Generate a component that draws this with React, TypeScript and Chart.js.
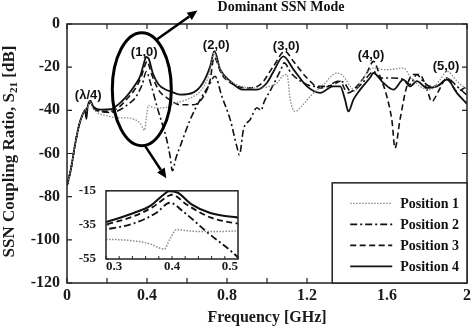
import React, { useEffect, useRef } from "react";
import { Chart, registerables } from "chart.js";

Chart.register(...registerables);

const SERIF = '"Liberation Serif", "Times New Roman", serif';
const SANS = '"Liberation Sans", Arial, sans-serif';

// ---------- data (frequency in GHz, S21 in dB) ----------
const pos1Freq = [0, 0.02, 0.04, 0.06, 0.08, 0.09, 0.1, 0.117, 0.13, 0.15, 0.2, 0.25, 0.3, 0.342, 0.367, 0.382, 0.388, 0.397, 0.407, 0.42, 0.443, 0.5, 0.53, 0.6, 0.666, 0.7, 0.716, 0.735, 0.75, 0.774, 0.85, 0.93, 1.0, 1.05, 1.08, 1.1, 1.116, 1.14, 1.18, 1.216, 1.282, 1.349, 1.382, 1.416, 1.44, 1.465, 1.532, 1.6, 1.682, 1.715, 1.765, 1.815, 1.866, 1.9, 1.95, 2.0];
const pos1Db = [-75, -67, -56, -47, -41.5, -40, -39, -36, -39, -41, -42.5, -43.5, -43.5, -44.4, -46.2, -48.7, -49.2, -43.2, -37.7, -38.3, -38.9, -38.5, -37, -35, -31.2, -26, -21.2, -13.4, -17, -22.7, -28.1, -29.6, -29.2, -27.3, -24, -23.4, -35, -40.5, -37.4, -33.5, -28.1, -22.7, -24.2, -28.9, -31, -27.2, -20.4, -21.2, -20.4, -24.2, -28.9, -30.4, -25.8, -21.9, -26.5, -30.4];

const pos2Freq = [0, 0.02, 0.04, 0.06, 0.08, 0.09, 0.1, 0.117, 0.13, 0.17, 0.22, 0.26, 0.3, 0.342, 0.376, 0.397, 0.417, 0.453, 0.498, 0.515, 0.527, 0.545, 0.566, 0.616, 0.666, 0.707, 0.74, 0.774, 0.816, 0.849, 0.862, 0.882, 0.916, 0.95, 0.97, 0.986, 1.019, 1.069, 1.086, 1.12, 1.169, 1.236, 1.3, 1.352, 1.386, 1.419, 1.469, 1.519, 1.535, 1.565, 1.632, 1.682, 1.715, 1.749, 1.78, 1.815, 1.866, 1.9, 1.95, 2.0];
const pos2Db = [-75, -67, -56, -47, -41.5, -40, -39, -36, -38.5, -40.5, -41, -40, -37.6, -34.1, -28, -22, -27.2, -39.2, -53.4, -61, -68, -62, -56.7, -44.3, -35, -28.9, -24.2, -33.5, -44.3, -56.7, -60.6, -49, -44.3, -38.8, -40, -36, -30.4, -21.2, -18, -22.7, -26.5, -28.9, -28.9, -26.5, -27.3, -31.2, -28.1, -22.7, -22, -25, -25, -25.8, -28, -23.4, -26.5, -28.9, -28, -25, -28.9, -33];

const pos3Freq = [0, 0.02, 0.04, 0.06, 0.08, 0.09, 0.1, 0.117, 0.13, 0.17, 0.22, 0.26, 0.3, 0.342, 0.37, 0.395, 0.4, 0.422, 0.458, 0.498, 0.566, 0.633, 0.683, 0.716, 0.735, 0.774, 0.833, 0.9, 0.966, 1.032, 1.09, 1.132, 1.2, 1.266, 1.332, 1.366, 1.39, 1.407, 1.449, 1.499, 1.532, 1.565, 1.599, 1.625, 1.64, 1.665, 1.699, 1.732, 1.765, 1.8, 1.824, 1.857, 1.9, 1.95, 2.0];
const pos3Db = [-75, -67, -56, -47, -41.5, -40, -39, -36, -38.5, -40.5, -40.5, -38.5, -34.7, -29.9, -24.7, -17.9, -17.3, -23, -30.6, -34.1, -37.4, -37.4, -33.5, -25.8, -15.5, -23.4, -28.1, -29.6, -28.1, -19.6, -12.6, -17.3, -25, -29.6, -28.1, -26.5, -30.4, -31.9, -28.9, -22.7, -17.3, -24.2, -33.5, -45, -57.5, -44.3, -28.9, -23.4, -23.5, -30.4, -35.9, -31.2, -25, -31.2, -28.9];

const pos4Freq = [0, 0.02, 0.04, 0.06, 0.08, 0.09, 0.097, 0.103, 0.117, 0.13, 0.17, 0.22, 0.26, 0.3, 0.342, 0.367, 0.388, 0.395, 0.408, 0.429, 0.458, 0.498, 0.517, 0.566, 0.63, 0.68, 0.716, 0.737, 0.766, 0.816, 0.88, 0.95, 1.0, 1.03, 1.082, 1.132, 1.2, 1.266, 1.33, 1.366, 1.39, 1.407, 1.432, 1.466, 1.515, 1.532, 1.582, 1.632, 1.682, 1.715, 1.749, 1.8, 1.85, 1.9, 1.95, 2.0];
const pos4Db = [-75, -67, -56, -47, -41.5, -40, -44, -38.5, -35.5, -38, -39.7, -39.5, -37, -33.3, -28, -23.9, -17, -15.3, -16, -22.8, -28, -30.6, -31.2, -32.7, -31.8, -27.2, -19.6, -12.6, -21, -26.5, -30.4, -30.4, -27.2, -22.5, -15, -21, -28.9, -31.9, -28.9, -28.9, -35, -40.5, -35, -30.4, -24.9, -22.7, -27.3, -30.4, -25.8, -28.9, -26.5, -29.6, -28.9, -25.8, -32, -37];

const seriesNames = ["Position 1", "Position 2", "Position 3", "Position 4"];
const seriesFreqs = [pos1Freq, pos2Freq, pos3Freq, pos4Freq];
const seriesDbs = [pos1Db, pos2Db, pos3Db, pos4Db];

const mainYTicks = [0, -20, -40, -60, -80, -100, -120];
const insetYTicks = [-15, -35, -55];

const modeLabels = ["(λ/4)", "(1,0)", "(2,0)", "(3,0)", "(4,0)", "(5,0)"];
const modeLabelFreq = [0.106, 0.386, 0.746, 1.096, 1.52, 1.895];
const modeLabelDb = [-33.2, -13.2, -10.0, -10.4, -14.6, -19.7];

// ---------- styles ----------
const seriesStyles = [
  { color: "#8a8a8a", width: 1.3, dash: [1.5, 1.5] },
  { color: "#111111", width: 1.6, dash: [7, 3, 2, 3] },
  { color: "#111111", width: 1.6, dash: [6, 3.5] },
  { color: "#111111", width: 1.8, dash: [] as number[] },
];

function buildDatasets(scaleW: number) {
  return seriesNames.map((name, i) => ({
    label: name,
    data: seriesFreqs[i].map((f, k) => ({ x: f, y: seriesDbs[i][k] })),
    borderColor: seriesStyles[i].color,
    borderWidth: seriesStyles[i].width * scaleW,
    borderDash: seriesStyles[i].dash,
    pointRadius: 0,
    cubicInterpolationMode: "monotone",
    fill: false,
  }));
}

function drawArrow(ctx: CanvasRenderingContext2D, x1: number, y1: number, x2: number, y2: number, lw: number) {
  const ang = Math.atan2(y2 - y1, x2 - x1);
  const head = 10;
  const half = 4.5;
  const bx = x2 - Math.cos(ang) * head;
  const by = y2 - Math.sin(ang) * head;
  ctx.lineWidth = lw;
  ctx.setLineDash([]);
  ctx.beginPath();
  ctx.moveTo(x1, y1);
  ctx.lineTo(bx, by);
  ctx.stroke();
  ctx.beginPath();
  ctx.moveTo(x2, y2);
  ctx.lineTo(bx + Math.sin(ang) * half, by - Math.cos(ang) * half);
  ctx.lineTo(bx - Math.sin(ang) * half, by + Math.cos(ang) * half);
  ctx.closePath();
  ctx.fill();
}

const mainDecor = {
  id: "mainDecor",
  afterDraw(chart: any) {
    const { ctx, chartArea: a } = chart;
    const xs = chart.scales.x;
    const ys = chart.scales.y;
    const px = (v: number) => xs.getPixelForValue(v);
    const py = (v: number) => ys.getPixelForValue(v);
    ctx.save();
    // frame
    ctx.strokeStyle = "#222";
    ctx.lineWidth = 1.5;
    ctx.setLineDash([]);
    ctx.strokeRect(a.left, a.top, a.right - a.left, a.bottom - a.top);
    // inward ticks
    ctx.lineWidth = 1.2;
    ctx.beginPath();
    xs.ticks.forEach((t: any) => {
      const p = xs.getPixelForValue(t.value);
      ctx.moveTo(p, a.bottom);
      ctx.lineTo(p, a.bottom - 5);
      ctx.moveTo(p, a.top);
      ctx.lineTo(p, a.top + 5);
    });
    ys.ticks.forEach((t: any) => {
      const p = ys.getPixelForValue(t.value);
      ctx.moveTo(a.left, p);
      ctx.lineTo(a.left + 5, p);
      ctx.moveTo(a.right, p);
      ctx.lineTo(a.right - 5, p);
    });
    ctx.stroke();

    // y title with subscript
    ctx.save();
    ctx.translate(10, (a.top + a.bottom) / 2 - 2);
    ctx.rotate(-Math.PI / 2);
    ctx.fillStyle = "#1a1a1a";
    ctx.textBaseline = "middle";
    ctx.textAlign = "left";
    const big = `bold 17px ${SERIF}`;
    const small = `bold 11px ${SERIF}`;
    const p1 = "SSN Coupling Ratio, S";
    const p2 = "21";
    const p3 = " [dB]";
    ctx.font = big;
    const w1 = ctx.measureText(p1).width;
    const w3 = ctx.measureText(p3).width;
    ctx.font = small;
    const w2 = ctx.measureText(p2).width;
    let cx = -(w1 + w2 + w3) / 2;
    ctx.font = big;
    ctx.fillText(p1, cx, 0);
    cx += w1;
    ctx.font = small;
    ctx.fillText(p2, cx, 4);
    cx += w2;
    ctx.font = big;
    ctx.fillText(p3, cx, 0);
    ctx.restore();

    // mode labels
    ctx.fillStyle = "#111";
    ctx.font = `bold 13px ${SANS}`;
    ctx.textAlign = "center";
    ctx.textBaseline = "middle";
    modeLabels.forEach((s, i) => ctx.fillText(s, px(modeLabelFreq[i]), py(modeLabelDb[i])));

    // ellipse around (1,0)
    ctx.strokeStyle = "#000";
    ctx.fillStyle = "#000";
    ctx.lineWidth = 3;
    ctx.beginPath();
    const ex = px(0.374);
    const ey = py(-30.2);
    const erx = px(0.374 + 0.1475) - ex;
    const ery = py(-30.2 - 26.2) - ey;
    ctx.ellipse(ex, ey, erx, ery, 0, 0, Math.PI * 2);
    ctx.stroke();

    // arrows
    drawArrow(ctx, px(0.449), py(-7.2), px(0.652), py(6.2), 2.5);
    drawArrow(ctx, px(0.391), py(-56.6), px(0.497), py(-71.5), 2.5);

    // headline text
    ctx.font = `bold 14px ${SERIF}`;
    ctx.textAlign = "center";
    ctx.textBaseline = "alphabetic";
    ctx.fillStyle = "#111";
    ctx.fillText("Dominant SSN Mode", px(1.07), 11);

    // legend box
    const L = px(1.326);
    const T = py(-73.6);
    ctx.fillStyle = "#fff";
    ctx.fillRect(L, T, a.right - L, a.bottom - T);
    ctx.strokeStyle = "#222";
    ctx.lineWidth = 1.5;
    ctx.strokeRect(L, T, a.right - L, a.bottom - T);
    ctx.font = `bold 14px ${SERIF}`;
    ctx.textAlign = "left";
    ctx.textBaseline = "middle";
    seriesNames.forEach((name, i) => {
      const rowY = T + 20.5 + i * 21;
      const st = seriesStyles[i];
      ctx.strokeStyle = st.color;
      ctx.lineWidth = st.width;
      ctx.setLineDash(st.dash);
      ctx.beginPath();
      ctx.moveTo(L + 18, rowY);
      ctx.lineTo(L + 60, rowY);
      ctx.stroke();
      ctx.setLineDash([]);
      ctx.fillStyle = "#111";
      ctx.fillText(name, L + 68, rowY + 1);
    });
    ctx.restore();
  },
};

const insetDecor = {
  id: "insetDecor",
  beforeDraw(chart: any) {
    const { ctx, chartArea: a } = chart;
    ctx.save();
    ctx.fillStyle = "#fff";
    ctx.fillRect(a.left, a.top, a.right - a.left, a.bottom - a.top);
    ctx.restore();
  },
  afterDraw(chart: any) {
    const { ctx, chartArea: a } = chart;
    const xs = chart.scales.x;
    const ys = chart.scales.y;
    ctx.save();
    ctx.strokeStyle = "#222";
    ctx.lineWidth = 1.5;
    ctx.setLineDash([]);
    ctx.strokeRect(a.left, a.top, a.right - a.left, a.bottom - a.top);
    ctx.lineWidth = 1;
    ctx.beginPath();
    xs.ticks.forEach((t: any) => {
      const p = xs.getPixelForValue(t.value);
      ctx.moveTo(p, a.bottom);
      ctx.lineTo(p, a.bottom - 3);
    });
    ys.ticks.forEach((t: any) => {
      const p = ys.getPixelForValue(t.value);
      ctx.moveTo(a.left, p);
      ctx.lineTo(a.left + 3, p);
    });
    ctx.stroke();
    ctx.restore();
  },
};

export default function App() {
  const mainRef = useRef<HTMLCanvasElement | null>(null);
  const insetRef = useRef<HTMLCanvasElement | null>(null);

  useEffect(() => {
    if (!mainRef.current || !insetRef.current) return;
    const tickFont = { family: SERIF, size: 16, weight: "bold" as const };
    const main = new Chart(mainRef.current, {
      type: "line",
      data: { datasets: buildDatasets(1) as any },
      options: {
        animation: false,
        responsive: false,
        maintainAspectRatio: false,
        devicePixelRatio: 1,
        layout: { padding: { left: 0, right: 7, top: 24, bottom: 0 } },
        plugins: { legend: { display: false }, tooltip: { enabled: false } },
        scales: {
          x: {
            type: "linear",
            min: 0,
            max: 2,
            grid: { display: false, drawTicks: false },
            border: { display: false },
            ticks: {
              stepSize: 0.2,
              autoSkip: false,
              maxRotation: 0,
              padding: 3,
              color: "#1a1a1a",
              font: tickFont,
              callback: (v: any) => {
                const r = Math.round(Number(v) * 10);
                if (r % 4 !== 0) return "";
                if (r === 0) return "0";
                if (r === 20) return "2";
                return (r / 10).toFixed(1);
              },
            },
            title: {
              display: true,
              text: "Frequency [GHz]",
              color: "#1a1a1a",
              font: { family: SERIF, size: 16, weight: "bold" },
              padding: { top: 0, bottom: 2 },
            },
            afterFit: (s: any) => {
              s.height = 46;
            },
          },
          y: {
            type: "linear",
            min: -120,
            max: 0,
            grid: { display: false, drawTicks: false },
            border: { display: false },
            afterBuildTicks: (s: any) => {
              s.ticks = mainYTicks.map((v) => ({ value: v }));
            },
            ticks: {
              padding: 7,
              color: "#1a1a1a",
              font: tickFont,
              callback: (v: any) => String(v),
            },
            afterFit: (s: any) => {
              s.width = 67;
            },
          },
        },
      },
      plugins: [mainDecor],
    });

    const insetFont = { family: SERIF, size: 13, weight: "bold" as const };
    const inset = new Chart(insetRef.current, {
      type: "line",
      data: { datasets: buildDatasets(1.15) as any },
      options: {
        animation: false,
        responsive: false,
        maintainAspectRatio: false,
        devicePixelRatio: 1,
        layout: { padding: { left: 0, right: 8, top: 8, bottom: 0 } },
        plugins: { legend: { display: false }, tooltip: { enabled: false } },
        scales: {
          x: {
            type: "linear",
            min: 0.3,
            max: 0.5,
            grid: { display: false, drawTicks: false },
            border: { display: false },
            ticks: {
              stepSize: 0.02,
              autoSkip: false,
              maxRotation: 0,
              padding: 0,
              align: "inner",
              color: "#1a1a1a",
              font: insetFont,
              callback: (v: any) => {
                const r = Math.round(Number(v) * 100);
                return r % 10 === 0 ? (r / 100).toFixed(1) : "";
              },
            },
            afterFit: (s: any) => {
              s.height = 18;
            },
          },
          y: {
            type: "linear",
            min: -55,
            max: -15,
            grid: { display: false, drawTicks: false },
            border: { display: false },
            afterBuildTicks: (s: any) => {
              s.ticks = insetYTicks.map((v) => ({ value: v }));
            },
            ticks: {
              padding: 10,
              color: "#1a1a1a",
              font: insetFont,
              callback: (v: any) => String(v),
            },
            afterFit: (s: any) => {
              s.width = 32;
            },
          },
        },
      },
      plugins: [insetDecor],
    });

    return () => {
      main.destroy();
      inset.destroy();
    };
  }, []);

  return (
    <div style={{ position: "fixed", left: 0, top: 0, width: 474, height: 329, background: "#fff" }}>
      <canvas ref={mainRef} width={474} height={329} style={{ position: "absolute", left: 0, top: 0, width: 474, height: 329 }} />
      <canvas ref={insetRef} width={172} height={104} style={{ position: "absolute", left: 74, top: 173, width: 172, height: 104 }} />
    </div>
  );
}
